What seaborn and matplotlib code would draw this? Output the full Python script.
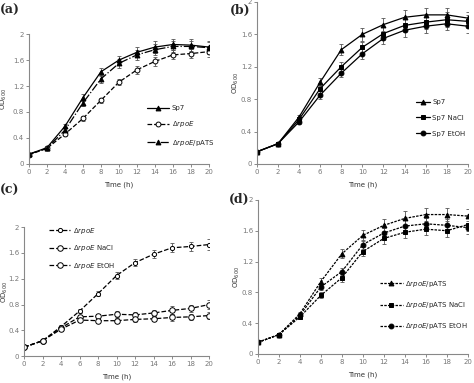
import matplotlib
matplotlib.use("Agg")
import matplotlib.pyplot as plt
import seaborn as sns
import numpy as np

time_h = [0, 2, 4, 6, 8, 10, 12, 14, 16, 18, 20]

# panel (a)
a_sp7 = [0.15, 0.25, 0.58, 1.02, 1.42, 1.60, 1.72, 1.80, 1.84, 1.83, 1.80]
a_rpoe = [0.14, 0.24, 0.46, 0.70, 0.98, 1.26, 1.45, 1.58, 1.68, 1.70, 1.73]
a_pats = [0.15, 0.24, 0.52, 0.94, 1.31, 1.55, 1.68, 1.76, 1.81, 1.81, 1.79]
a_sp7_err = [0.01, 0.02, 0.03, 0.05, 0.06, 0.07, 0.08, 0.09, 0.09, 0.09, 0.09]
a_rpoe_err = [0.01, 0.02, 0.03, 0.04, 0.04, 0.05, 0.06, 0.07, 0.07, 0.07, 0.08]
a_pats_err = [0.01, 0.02, 0.03, 0.05, 0.06, 0.07, 0.08, 0.08, 0.09, 0.09, 0.09]

# panel (b)
b_sp7 = [0.15, 0.25, 0.58, 1.01, 1.41, 1.60, 1.72, 1.81, 1.84, 1.84, 1.80]
b_nacl = [0.15, 0.25, 0.55, 0.93, 1.20, 1.44, 1.61, 1.71, 1.75, 1.78, 1.76]
b_etoh = [0.15, 0.25, 0.52, 0.85, 1.12, 1.36, 1.55, 1.65, 1.70, 1.73, 1.70]
b_sp7_err = [0.01, 0.02, 0.03, 0.05, 0.07, 0.08, 0.08, 0.09, 0.09, 0.09, 0.08]
b_nacl_err = [0.01, 0.02, 0.03, 0.05, 0.06, 0.07, 0.08, 0.08, 0.09, 0.09, 0.08]
b_etoh_err = [0.01, 0.02, 0.03, 0.05, 0.05, 0.06, 0.07, 0.08, 0.08, 0.08, 0.08]

# panel (c)
c_rpoe = [0.14, 0.24, 0.46, 0.70, 0.97, 1.25, 1.45, 1.58, 1.68, 1.70, 1.73]
c_nacl = [0.14, 0.24, 0.44, 0.61, 0.62, 0.65, 0.64, 0.67, 0.71, 0.74, 0.80]
c_etoh = [0.14, 0.24, 0.42, 0.56, 0.55, 0.55, 0.57, 0.58, 0.60, 0.61, 0.63]
c_rpoe_err = [0.01, 0.02, 0.03, 0.03, 0.04, 0.05, 0.06, 0.06, 0.07, 0.07, 0.08]
c_nacl_err = [0.01, 0.02, 0.03, 0.03, 0.04, 0.05, 0.05, 0.05, 0.06, 0.06, 0.07]
c_etoh_err = [0.01, 0.02, 0.03, 0.03, 0.03, 0.04, 0.04, 0.04, 0.05, 0.05, 0.05]

# panel (d)
d_pats = [0.15, 0.25, 0.52, 0.94, 1.30, 1.54, 1.67, 1.76, 1.81, 1.81, 1.79]
d_nacl = [0.15, 0.25, 0.48, 0.76, 0.99, 1.33, 1.50, 1.58, 1.62, 1.60, 1.68]
d_etoh = [0.15, 0.25, 0.50, 0.87, 1.07, 1.42, 1.57, 1.66, 1.69, 1.67, 1.64]
d_pats_err = [0.01, 0.02, 0.03, 0.05, 0.06, 0.07, 0.08, 0.09, 0.09, 0.09, 0.09]
d_nacl_err = [0.01, 0.02, 0.03, 0.04, 0.05, 0.06, 0.07, 0.08, 0.08, 0.08, 0.08]
d_etoh_err = [0.01, 0.02, 0.03, 0.04, 0.05, 0.06, 0.07, 0.08, 0.08, 0.08, 0.08]

sns.set_theme(style="ticks")
plt.rcParams['font.family'] = ['DejaVu Sans']

fig = plt.figure(figsize=(4.74, 3.83), dpi=100)

ax_a = fig.add_axes([0.061, 0.572, 0.380, 0.339])
ax_b = fig.add_axes([0.542, 0.572, 0.445, 0.423])
ax_c = fig.add_axes([0.051, 0.070, 0.390, 0.337])
ax_d = fig.add_axes([0.544, 0.076, 0.443, 0.402])


def draw_series(ax, y, err, label, marker, ls, open_marker=False, ms=3.5):
    mfc = 'white' if open_marker else 'black'
    ax.errorbar(time_h, y, yerr=err, fmt='none', ecolor='#555555',
                elinewidth=0.6, capsize=1.5, capthick=0.6, zorder=1)
    sns.lineplot(x=time_h, y=y, ax=ax, color='black', linewidth=0.9,
                 linestyle=ls, marker=marker, markersize=ms,
                 markerfacecolor=mfc, markeredgecolor='black',
                 markeredgewidth=0.7, label=label, zorder=2)


def style_axes(ax, label, label_xy, ylab_x):
    ax.set_xlim(0, 20)
    ax.set_ylim(0, 2)
    ax.set_xticks(range(0, 21, 2))
    ax.set_yticks([0, 0.4, 0.8, 1.2, 1.6, 2])
    ax.set_yticklabels(['0', '0.4', '0.8', '1.2', '1.6', '2'])
    sns.despine(ax=ax)
    for s in ['left', 'bottom']:
        ax.spines[s].set_color('#888888')
        ax.spines[s].set_linewidth(0.8)
    ax.tick_params(labelsize=5, colors='#777777', length=2, width=0.6, pad=1.5)
    ax.set_xlabel('Time (h)', fontsize=5, color='#333333', labelpad=5)
    ax.set_ylabel(r'OD$_{600}$', fontsize=5, color='#333333')
    ax.yaxis.set_label_coords(ylab_x, 0.5)
    fig.text(label_xy[0], label_xy[1], label, fontsize=9, family='DejaVu Serif',
             fontweight='bold', ha='left', va='center')


legend_kw = dict(frameon=False, fontsize=5, handletextpad=0.4, borderaxespad=0)

# (a)
draw_series(ax_a, a_sp7, a_sp7_err, 'Sp7', '^', '-')
draw_series(ax_a, a_rpoe, a_rpoe_err, r'$\Delta$$\it{rpoE}$', 'o', '--', open_marker=True)
draw_series(ax_a, a_pats, a_pats_err, r'$\Delta$$\it{rpoE}$/pATS', '^', '-.')
style_axes(ax_a, '(a)', (0.0, 0.972), -0.11)
ax_a.legend(loc='center left', bbox_to_anchor=(0.64, 0.29), handlelength=3.2,
            labelspacing=1.2, **legend_kw)

# (b)
draw_series(ax_b, b_sp7, b_sp7_err, 'Sp7', '^', '-')
draw_series(ax_b, b_nacl, b_nacl_err, 'Sp7 NaCl', 's', '-')
draw_series(ax_b, b_etoh, b_etoh_err, 'Sp7 EtOH', 'o', '-')
style_axes(ax_b, '(b)', (0.485, 0.972), -0.075)
ax_b.legend(loc='center left', bbox_to_anchor=(0.74, 0.284), handlelength=2.0,
            labelspacing=1.4, **legend_kw)

# (c)
draw_series(ax_c, c_rpoe, c_rpoe_err, r'$\Delta$$\it{rpoE}$', 'o', '--', open_marker=True, ms=3)
draw_series(ax_c, c_nacl, c_nacl_err, r'$\Delta$$\it{rpoE}$ NaCl', 'o', '--', open_marker=True, ms=4)
draw_series(ax_c, c_etoh, c_etoh_err, r'$\Delta$$\it{rpoE}$ EtOH', 'o', '--', open_marker=True, ms=4)
style_axes(ax_c, '(c)', (0.0, 0.502), -0.074)
ax_c.legend(loc='center left', bbox_to_anchor=(0.12, 0.837), handlelength=3.0,
            labelspacing=1.1, **legend_kw)

# (d)
draw_series(ax_d, d_pats, d_pats_err, r'$\Delta$$\it{rpoE}$/pATS', '^', (0, (2, 1)))
draw_series(ax_d, d_nacl, d_nacl_err, r'$\Delta$$\it{rpoE}$/pATS NaCl', 's', (0, (2, 1)))
draw_series(ax_d, d_etoh, d_etoh_err, r'$\Delta$$\it{rpoE}$/pATS EtOH', 'o', (0, (2, 1)))
style_axes(ax_d, '(d)', (0.482, 0.478), -0.075)
ax_d.legend(loc='center left', bbox_to_anchor=(0.57, 0.318), handlelength=3.2,
            labelspacing=1.6, **legend_kw)

fig.savefig('out.png', dpi=100)
